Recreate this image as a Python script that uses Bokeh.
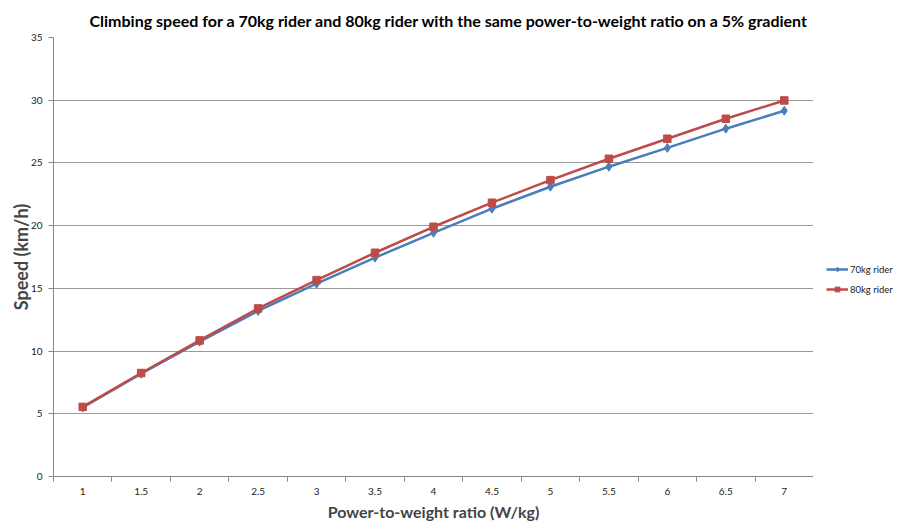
from bokeh.plotting import figure
from bokeh.models import FixedTicker, Legend, LegendItem, Range1d
from bokeh.layouts import row
from bokeh.embed import file_html
from bokeh.resources import INLINE

ratios = [1, 1.5, 2, 2.5, 3, 3.5, 4, 4.5, 5, 5.5, 6, 6.5, 7]
tick_labels = ["1", "1.5", "2", "2.5", "3", "3.5", "4", "4.5", "5", "5.5", "6", "6.5", "7"]
speed_70 = [5.5, 8.2, 10.75, 13.2, 15.37, 17.45, 19.43, 21.35, 23.1, 24.7, 26.2, 27.73, 29.16]
speed_80 = [5.55, 8.25, 10.85, 13.4, 15.66, 17.84, 19.91, 21.83, 23.63, 25.33, 26.93, 28.52, 29.98]
y_ticks = [0, 5, 10, 15, 20, 25, 30, 35]
series_labels = ["70kg rider", "80kg rider"]

FONT = "Lato"
BLUE = "#4a7ebb"
RED = "#be4b48"
AXIS = "#868686"

p = figure(frame_width=760, frame_height=439, output_backend="svg", toolbar_location=None,
           x_range=Range1d(0.75, 7.25), y_range=Range1d(0, 35),
           min_border_left=38, min_border_right=0, min_border_top=30, min_border_bottom=46)
p.margin = (0, 0, 0, 6)
p.outline_line_color = None
p.background_fill_color = "white"

p.title.text = "Climbing speed for a 70kg rider and 80kg rider with the same power-to-weight ratio on a 5% gradient"
p.title.text_font = FONT
p.title.text_font_style = "bold"
p.title.text_font_size = "16px"
p.title.align = "left"
p.title.offset = 36
p.title.text_color = "#000000"
p.title.standoff = 16

# x axis
half = 0.25
boundaries = [r - half for r in ratios] + [ratios[-1] + half]
p.xaxis.ticker = FixedTicker(ticks=ratios, minor_ticks=boundaries)
p.xaxis.major_label_overrides = {r: lab for r, lab in zip(ratios, tick_labels)}
p.xaxis.major_tick_line_color = None
p.xaxis.minor_tick_line_color = AXIS
p.xaxis.minor_tick_out = 5
p.xaxis.minor_tick_in = 0
p.xaxis.axis_line_color = AXIS
p.xaxis.major_label_text_font = FONT
p.xaxis.major_label_text_font_size = "10px"
p.xaxis.major_label_text_color = "#222222"
p.xaxis.major_label_standoff = 5
p.xaxis.axis_label = "Power-to-weight ratio (W/kg)"
p.xaxis.axis_label_text_font = FONT
p.xaxis.axis_label_text_font_style = "bold"
p.xaxis.axis_label_text_font_size = "16px"
p.xaxis.axis_label_standoff = 4

# y axis
p.yaxis.ticker = FixedTicker(ticks=y_ticks)
p.yaxis.major_tick_line_color = AXIS
p.yaxis.major_tick_out = 5
p.yaxis.major_tick_in = 0
p.yaxis.minor_tick_line_color = None
p.yaxis.axis_line_color = AXIS
p.yaxis.major_label_text_font = FONT
p.yaxis.major_label_text_font_size = "10px"
p.yaxis.major_label_text_color = "#222222"
p.yaxis.major_label_standoff = 6
p.yaxis.axis_label = "Speed (km/h)"
p.yaxis.axis_label_text_font = FONT
p.yaxis.axis_label_text_font_style = "bold"
p.yaxis.axis_label_text_font_size = "18px"
p.yaxis.axis_label_standoff = -4

p.xgrid.grid_line_color = None
p.ygrid.ticker = FixedTicker(ticks=y_ticks)
p.ygrid.grid_line_color = "#9a9a9a"
p.ygrid.grid_line_width = 1

p.line(ratios, speed_70, line_color=BLUE, line_width=2.5)
p.scatter(ratios, speed_70, marker="diamond", size=9, fill_color=BLUE, line_color=BLUE)
p.line(ratios, speed_80, line_color=RED, line_width=2.5)
p.scatter(ratios, speed_80, marker="square", size=7.5, fill_color=RED, line_color=RED)

# legend panel (its renderers sit outside its visible range; only the legend shows)
lg = figure(width=80, height=505, output_backend="svg", toolbar_location=None,
            x_axis_type=None, y_axis_type=None, x_range=Range1d(100, 101), y_range=Range1d(100, 101),
            min_border=0)
lg.outline_line_color = None
lg.grid.visible = False
r70l = lg.line(ratios, speed_70, line_color=BLUE, line_width=2.5)
r70m = lg.scatter(ratios, speed_70, marker="diamond", size=9, fill_color=BLUE, line_color=BLUE)
r80l = lg.line(ratios, speed_80, line_color=RED, line_width=2.5)
r80m = lg.scatter(ratios, speed_80, marker="square", size=7.5, fill_color=RED, line_color=RED)

legend = Legend(items=[LegendItem(label=series_labels[0], renderers=[r70l, r70m]),
                       LegendItem(label=series_labels[1], renderers=[r80l, r80m])],
                location=(13, 163), orientation="vertical")
legend.border_line_color = None
legend.background_fill_alpha = 0
legend.margin = 0
legend.padding = 0
legend.glyph_width = 22
legend.glyph_height = 12
legend.label_height = 12
legend.label_standoff = 2
legend.spacing = 8
legend.label_text_font = FONT
legend.label_text_font_size = "9.5px"
legend.label_text_color = "#222222"
lg.add_layout(legend, "center")

layout = row(p, lg)
open("out.html", "w").write(file_html(layout, INLINE))
